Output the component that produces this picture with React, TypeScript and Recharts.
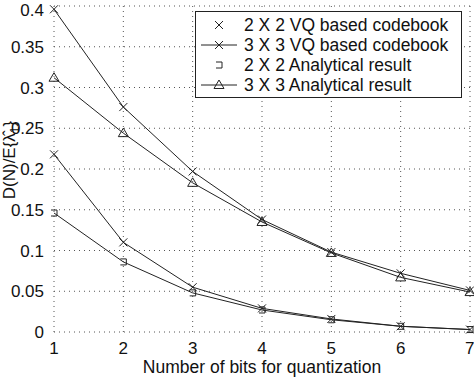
import { LineChart, Line, XAxis, YAxis, CartesianGrid } from 'recharts';

const bits = [1, 2, 3, 4, 5, 6, 7];
const vq2 = [0.218, 0.11, 0.055, 0.029, 0.016, 0.007, 0.003];
const vq3 = [0.396, 0.276, 0.197, 0.138, 0.098, 0.072, 0.051];
const an2 = [0.146, 0.086, 0.048, 0.027, 0.015, 0.007, 0.003];
const an3 = [0.312, 0.244, 0.183, 0.135, 0.097, 0.067, 0.049];
const yTicks = [0, 0.05, 0.1, 0.15, 0.2, 0.25, 0.3, 0.35, 0.4];
const seriesNames = [
  '2 X 2 VQ based codebook',
  '3 X 3 VQ based codebook',
  '2 X 2 Analytical result',
  '3 X 3 Analytical result',
];

const data = bits.map((b, i) => ({ b, vq2: vq2[i], vq3: vq3[i], an2: an2[i], an3: an3[i] }));

const INK = '#222';
const FONT = 'Liberation Sans, Arial, sans-serif';

function Marker({ kind, x, y }: { kind: string; x: number; y: number }) {
  const s = 4;
  if (kind === 'x') {
    return (
      <path
        d={`M${x - s},${y - s}L${x + s},${y + s}M${x - s},${y + s}L${x + s},${y - s}`}
        stroke={INK}
        strokeWidth={1}
        fill="none"
      />
    );
  }
  if (kind === 'sq') {
    return (
      <path
        d={`M${x - 3},${y - 3}H${x + 3}V${y + 3}H${x - 3}`}
        stroke={INK}
        strokeWidth={1}
        fill="none"
      />
    );
  }
  return (
    <path
      d={`M${x},${y - 5}L${x + 5},${y + 3.5}L${x - 5},${y + 3.5}Z`}
      stroke={INK}
      strokeWidth={1}
      fill="none"
    />
  );
}

const dotFor = (kind: string) => (p: any) =>
  <Marker key={`${kind}-${p.index}`} kind={kind} x={p.cx} y={p.cy} />;

function LegendBox() {
  const kinds = ['x', 'x', 'sq', 'tri'];
  const lines = [false, true, false, true];
  return (
    <svg width={268} height={88} style={{ display: 'block' }}>
      <rect x={0.5} y={0.5} width={266} height={86} fill="#fff" stroke={INK} strokeWidth={1} />
      {seriesNames.map((n, i) => {
        const cy = 14 + i * 20;
        return (
          <g key={n}>
            {lines[i] && <line x1={6} x2={42} y1={cy} y2={cy} stroke={INK} strokeWidth={1} />}
            <Marker kind={kinds[i]} x={24} y={cy} />
            <text x={49} y={cy + 6} fontSize={17.5} fontFamily={FONT} fill="#111">
              {n}
            </text>
          </g>
        );
      })}
    </svg>
  );
}

function YLabel() {
  return (
    <text transform="translate(15,160) rotate(-90)" textAnchor="middle" fontSize={17} fontFamily={FONT} fill="#111">
      D(N)/E{'{'}λ̂<tspan fontSize={12} dy={4}>1</tspan>
      <tspan dy={-4}>{'}'}</tspan>
    </text>
  );
}

export default function App() {
  return (
    <div style={{ position: 'absolute', left: 0, top: 0, width: 474, height: 377, background: '#fff' }}>
      <LineChart
        width={474}
        height={377}
        data={data}
        margin={{ top: 6, right: 4, bottom: 0, left: 0 }}
      >
        <CartesianGrid stroke="#555" strokeDasharray="1 4" />
        <XAxis
          dataKey="b"
          type="number"
          domain={[1, 7]}
          ticks={bits}
          axisLine={false}
          tickLine={false}
          height={45}
          tick={{ fill: '#111', fontSize: 17, fontFamily: FONT }}
          tickMargin={4}
          label={{
            value: 'Number of bits for quantization',
            position: 'insideBottom',
            offset: 4,
            fill: '#111',
            fontSize: 17.5,
            fontFamily: FONT,
          }}
        />
        <YAxis
          type="number"
          domain={[0, 0.4]}
          ticks={yTicks}
          axisLine={false}
          tickLine={false}
          width={54}
          tickMargin={4}
          tickFormatter={(v: number) => String(v)}
          tick={{ fill: '#111', fontSize: 17, fontFamily: FONT }}
          label={{ content: () => <YLabel /> }}
        />
        <Line dataKey="vq2" name={seriesNames[0]} stroke={INK} strokeWidth={1} dot={dotFor('x')} isAnimationActive={false} />
        <Line dataKey="vq3" name={seriesNames[1]} stroke={INK} strokeWidth={1} dot={dotFor('x')} isAnimationActive={false} />
        <Line dataKey="an2" name={seriesNames[2]} stroke={INK} strokeWidth={1} dot={dotFor('sq')} isAnimationActive={false} />
        <Line dataKey="an3" name={seriesNames[3]} stroke={INK} strokeWidth={1} dot={dotFor('tri')} isAnimationActive={false} />
      </LineChart>
      <div style={{ position: 'absolute', left: 195, top: 11 }}>
        <LegendBox />
      </div>
    </div>
  );
}
